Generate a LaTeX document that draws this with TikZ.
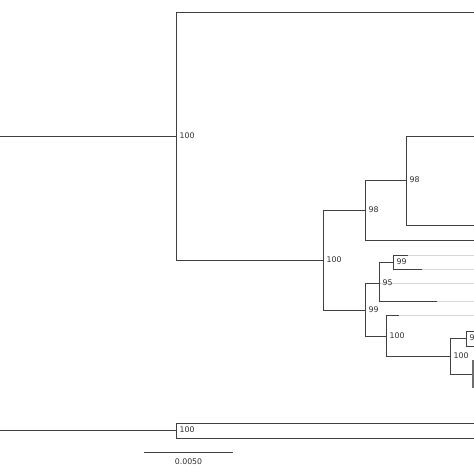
\documentclass[tikz,border=0pt]{standalone}
\usepackage{fontspec}
\setmainfont{DejaVu Sans}
\definecolor{branchc}{HTML}{404040}
\definecolor{leadc}{HTML}{D8D8D8}
\definecolor{textc}{HTML}{2E2E2E}
\definecolor{blockc}{HTML}{6E6E6E}
\begin{document}
\begin{tikzpicture}[x=1pt,y=-1pt,
  br/.style={draw=branchc,line width=0.95pt},
  lead/.style={draw=leadc,line width=0.9pt},
  bs/.style={anchor=west,inner sep=0pt,xshift=3.5pt,font=\fontsize{7.8}{9}\selectfont,text=textc},
  scl/.style={inner sep=0pt,font=\fontsize{7.8}{9}\selectfont,text=textc}]
\useasboundingbox (0,0) rectangle (474,474);
\clip (0,0) rectangle (474,474);
% coordinates: internal nodes
\coordinate (r1) at (0,136);
\coordinate (n1) at (176,136);
\coordinate (n2) at (323,260);
\coordinate (n3) at (365,210);
\coordinate (n4) at (406,180);
\coordinate (n5) at (365,310);
\coordinate (n6) at (379,283);
\coordinate (n7) at (393,262);
\coordinate (n8) at (386,336);
\coordinate (n9) at (450,356);
\coordinate (n10) at (466,338);
\coordinate (r2) at (0,430);
\coordinate (n11) at (176,430);
% leaves
\coordinate (la) at (474,12);
\coordinate (lb) at (474,136);
\coordinate (lc) at (474,225);
\coordinate (ld) at (474,240);
\coordinate (lf) at (408,255);
\coordinate (lfE) at (474,255);
\coordinate (lg) at (422,269);
\coordinate (lgE) at (474,269);
\coordinate (n6E) at (474,283);
\coordinate (le) at (437,301);
\coordinate (leE) at (474,301);
\coordinate (lh) at (399,315);
\coordinate (lhE) at (474,315);
\coordinate (li) at (472,374);
\coordinate (lj) at (474,331);
\coordinate (lk) at (474,346);
\coordinate (lm) at (474,423);
\coordinate (ln) at (474,438);
\coordinate (sb1) at (144,452);
\coordinate (sb2) at (233,452);
% leader lines
\draw[lead] (lf) -- (lfE);
\draw[lead] (lg) -- (lgE);
\draw[lead] (n6) -- (n6E);
\draw[lead] (le) -- (leE);
\draw[lead] (lh) -- (lhE);
% branches
\draw[br] (r1) -- (n1);
\draw[br] (n1) |- (la);
\draw[br] (n1) |- (n2);
\draw[br] (n2) |- (n3);
\draw[br] (n2) |- (n5);
\draw[br] (n3) |- (n4);
\draw[br] (n3) |- (ld);
\draw[br] (n4) |- (lb);
\draw[br] (n4) |- (lc);
\draw[br] (n5) |- (n6);
\draw[br] (n5) |- (n8);
\draw[br] (n6) |- (n7);
\draw[br] (n6) |- (le);
\draw[br] (n7) |- (lf);
\draw[br] (n7) |- (lg);
\draw[br] (n8) |- (lh);
\draw[br] (n8) |- (n9);
\draw[br] (n9) |- (n10);
\draw[br] (n9) |- (li);
\draw[br] (n10) |- (lj);
\draw[br] (n10) |- (lk);
\draw[br] (r2) -- (n11);
\draw[br] (n11) |- (lm);
\draw[br] (n11) |- (ln);
\fill[blockc] (471.5,360) rectangle (474,388);
% bootstrap labels
\node[bs] (b1) at (n1) {100};
\node[bs] (b2) at (n2) {100};
\node[bs] (b3) at (n3) {98};
\node[bs] (b4) at (n4) {98};
\node[bs] (b5) at (n5) {99};
\node[bs] (b6) at (n6) {95};
\node[bs] (b7) at (n7) {99};
\node[bs] (b8) at (n8) {100};
\node[bs] (b9) at (n9) {100};
\node[bs] (b10) at (n10) {9};
\node[bs] (b11) at (n11) {100};
% scale bar
\draw[br] (sb1) -- (sb2);
\node[scl] (sbl) at (188.5,462) {0.0050};
\end{tikzpicture}
\end{document}
